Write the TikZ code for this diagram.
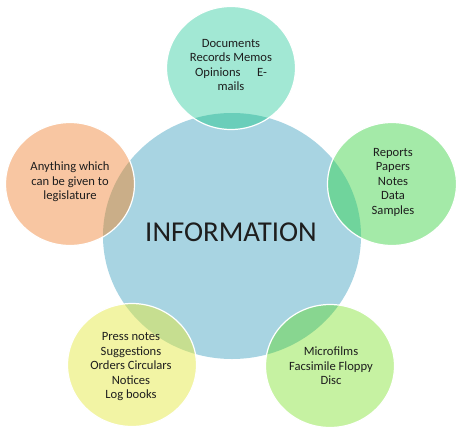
\documentclass[tikz,border=0pt]{standalone}
\usepackage{fontspec}
\setmainfont{Carlito}
\usepackage{xcolor}
\definecolor{infoBlue}{RGB}{168,212,226}
\definecolor{docsTeal}{RGB}{162,232,212}
\definecolor{docsMix}{RGB}{106,206,186}
\definecolor{repGreen}{RGB}{164,234,168}
\definecolor{repMix}{RGB}{112,212,156}
\definecolor{legPeach}{RGB}{248,198,162}
\definecolor{legMix}{RGB}{202,174,136}
\definecolor{pressYellow}{RGB}{242,244,164}
\definecolor{pressMix}{RGB}{198,222,144}
\definecolor{microGreen}{RGB}{198,242,162}
\definecolor{microMix}{RGB}{136,214,144}
\definecolor{textDark}{RGB}{30,30,30}
\usetikzlibrary{positioning}
\tikzstyle{petaltext}=[align=center, font=\fontsize{12.6}{14.5}\selectfont, text=textDark, inner sep=0pt]
\tikzstyle{petaledge}=[draw=white, line width=1.2pt]
\tikzstyle{inforad}=[x radius=129, y radius=123]
\tikzstyle{petalrad}=[x radius=64.5, y radius=61.5]

\begin{document}
\begin{tikzpicture}[x=1pt, y=-1pt]
    \useasboundingbox (0,0) rectangle (462,436);

    % Centros
    \coordinate (cinfo)  at (232, 236);
    \coordinate (cdocs)  at (231, 68);
    \coordinate (crep)   at (392, 184);
    \coordinate (cleg)   at (70, 184);
    \coordinate (cpress) at (132, 365);
    \coordinate (cmicro) at (330, 366);

    % Circulo central
    \fill[infoBlue] (cinfo) ellipse [inforad];

    % Petalas
    \fill[docsTeal]    (cdocs)  ellipse [petalrad];
    \fill[repGreen]    (crep)   ellipse [petalrad];
    \fill[legPeach]    (cleg)   ellipse [petalrad];
    \fill[pressYellow] (cpress) ellipse [petalrad];
    \fill[microGreen]  (cmicro) ellipse [petalrad];

    % Intersecoes
    \begin{scope}
      \clip (cinfo) ellipse [inforad];
      \fill[docsMix]  (cdocs)  ellipse [petalrad];
      \fill[repMix]   (crep)   ellipse [petalrad];
      \fill[legMix]   (cleg)   ellipse [petalrad];
      \fill[pressMix] (cpress) ellipse [petalrad];
      \fill[microMix] (cmicro) ellipse [petalrad];
    \end{scope}

    % Contornos
    \foreach \c in {cdocs, crep, cleg, cpress, cmicro} {
      \draw[petaledge] (\c) ellipse [petalrad];
    }

    % Textos
    \node[font=\fontsize{28.8}{30}\selectfont, text=textDark, inner sep=0pt] (info) at (231, 232) {INFORMATION};
    \node[petaltext] (docs)  at (231, 65)  {Documents\\Records Memos\\Opinions\hspace{1.3em}E-\\mails};
    \node[petaltext] (rep)   at (393, 182) {Reports\\Papers\\Notes\\Data\\Samples};
    \node[petaltext] (leg)   at (70, 182)  {Anything which\\can be given to\\legislature};
    \node[petaltext] (press) at (131, 367) {Press notes\\Suggestions\\Orders Circulars\\Notices\\Log books};
    \node[petaltext] (micro) at (331, 366) {Microfilms\\Facsimile Floppy\\Disc};
  \end{tikzpicture}
\end{document}
